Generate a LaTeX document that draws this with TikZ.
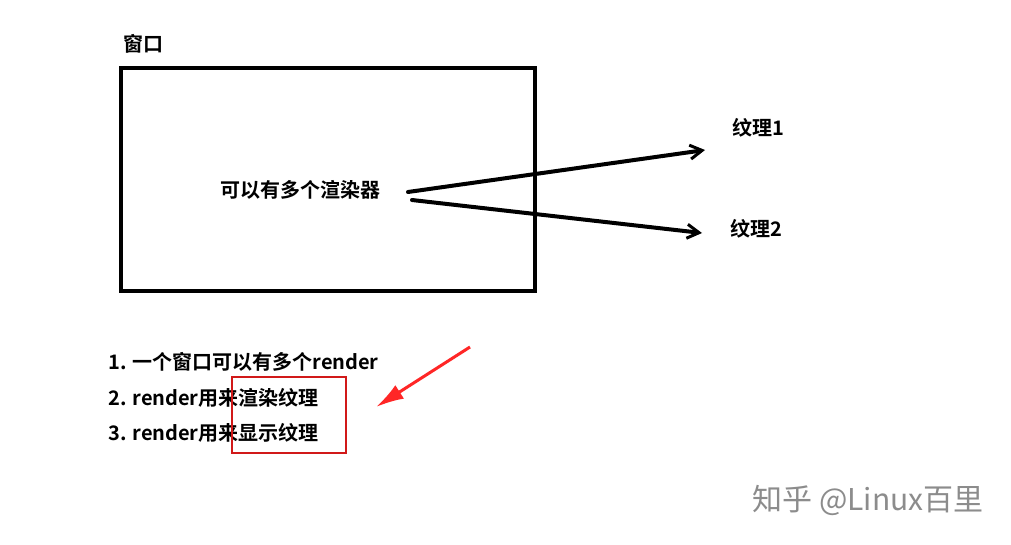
\documentclass[tikz,border=0pt]{standalone}
\usepackage{fontspec}
\setmainfont{Noto Sans CJK SC}[BoldFont={* Bold}]
\newfontfamily\cjkb{Noto Sans CJK SC Bold}
\usetikzlibrary{arrows.meta}
\begin{document}
\begin{tikzpicture}[x=1pt,y=-1pt,
  lbl/.style={font=\cjkb\fontsize{20}{22}\selectfont,inner sep=0pt},
  item/.style={font=\cjkb\fontsize{20}{22}\selectfont,inner sep=0pt,anchor=west},
  blk/.style={line width=4pt,line cap=round,-{Straight Barb[length=12pt,width=14pt,line width=3pt]}}]
\useasboundingbox[fill=white] (0,0) rectangle (1011,544);
\node[lbl] (win) at (143,44) {窗口};
\draw[line width=4pt] (121,68) rectangle (535,291);
\node[lbl] (r) at (300,190) {可以有多个渲染器};
\node[lbl] (t1) at (758,128) {纹理1};
\node[lbl] (t2) at (756,229) {纹理2};
\coordinate (s1) at (408,192);
\coordinate (s2) at (412,200);
\coordinate (e1) at (705,150);
\coordinate (e2) at (702,233);
\draw[blk] (s1) -- (e1);
\draw[blk] (s2) -- (e2);
\node[item] (l1) at (108,362) {1. 一个窗口可以有多个render};
\node[item] (l2) at (108,398) {2. render用来渲染纹理};
\node[item] (l3) at (108,433) {3. render用来显示纹理};
\draw[red!80!black!90,line width=2pt] (232,377) rectangle (346,453);
\coordinate (a1) at (470,347);
\coordinate (a2) at (376,407);
\draw[red!85!white,line width=3pt,-{Latex[length=28pt,width=16pt]}] (a1) -- (a2);
\node[font=\fontsize{30}{32}\selectfont,text=black!45,inner sep=0pt] (wm) at (868,500) {知乎 @Linux百里};
\end{tikzpicture}
\end{document}
